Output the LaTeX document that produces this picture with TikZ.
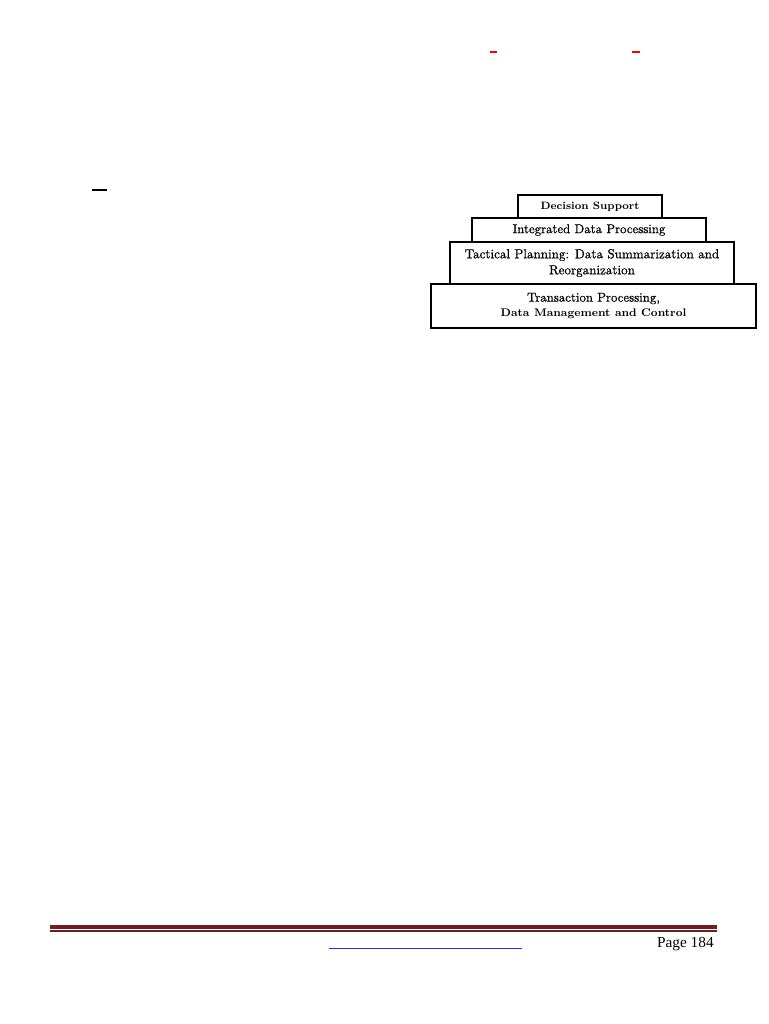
\documentclass[tikz,border=0pt]{standalone}
\usepackage{fontspec}
\newfontfamily\pagefont{Liberation Serif}
\newfontfamily\heavy[FakeBold=0.6]{Latin Modern Roman}
\definecolor{darkred}{RGB}{110,30,30}
\definecolor{linkblue}{RGB}{40,40,230}
\begin{document}
\begin{tikzpicture}[x=0.75pt,y=-0.75pt,
  level/.style={draw=black,line width=1.5pt,inner sep=0pt,anchor=north west,align=center},
  tiny/.style={line width=1pt}]
\useasboundingbox (0,0) rectangle (768,1024);
% stray marks
\draw[red,tiny] (490,52) -- (497,52);
\draw[red,tiny] (632,52) -- (640,52);
\draw[black,tiny] (92,190) -- (107,190);
% pyramid
\node[level,minimum width=144*0.75pt,minimum height=23*0.75pt,font=\fontsize{8}{9}\selectfont\bfseries] (ds) at (517,194) {Decision Support};
\node[level,minimum width=234*0.75pt,minimum height=24*0.75pt,font=\heavy\fontsize{9.6}{11}\selectfont] (idp) at (471,217) {Integrated Data Processing};
\node[level,minimum width=284*0.75pt,minimum height=42*0.75pt,font=\heavy\fontsize{9.8}{12}\selectfont] (tp) at (449,241) {Tactical Planning: Data Summarization and\\Reorganization};
\node[level,minimum width=325*0.75pt,minimum height=44*0.75pt,font=\heavy\fontsize{9.6}{11.5}\selectfont] (tr) at (430,283) {Transaction Processing,\\{\normalfont\fontsize{8.3}{10}\selectfont\bfseries Data Management and Control}};
% footer
\draw[darkred,line width=3pt] (50,926.5) -- (717,926.5);
\draw[darkred,line width=0.8pt] (50,931) -- (717,931);
\draw[linkblue,line width=0.9pt] (329,948.5) -- (522,948.5);
\node[anchor=base east,inner sep=0pt,font=\pagefont\fontsize{11.5}{13}\selectfont] (pg) at (714,947) {Page 184};
\end{tikzpicture}
\end{document}
